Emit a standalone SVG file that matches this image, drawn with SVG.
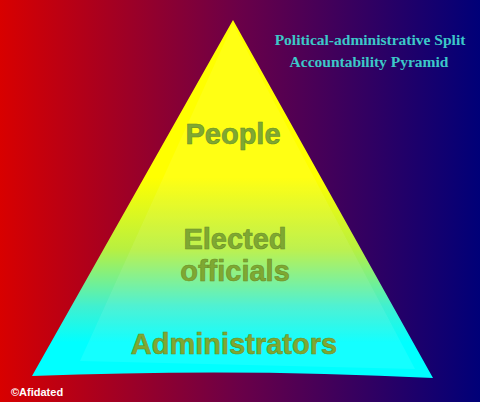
<svg xmlns="http://www.w3.org/2000/svg" width="480" height="402" viewBox="0 0 480 402">
<defs>
<linearGradient id="bg" x1="0" y1="0" x2="1" y2="0">
<stop offset="0" stop-color="#d80000"/>
<stop offset="0.5" stop-color="#6a0048"/>
<stop offset="1" stop-color="#000078"/>
</linearGradient>
<linearGradient id="pyr" x1="0" y1="20" x2="0" y2="378" gradientUnits="userSpaceOnUse">
<stop offset="0" stop-color="#ffff00"/>
<stop offset="0.44" stop-color="#ffff00"/>
<stop offset="0.64" stop-color="#b8f040"/>
<stop offset="0.8" stop-color="#40f0d0"/>
<stop offset="0.9" stop-color="#00ffff"/>
<stop offset="1" stop-color="#00ffff"/>
</linearGradient>
<style>
.lbl{font-family:"Liberation Sans",Arial,sans-serif;font-weight:bold;font-size:29px;fill:#7fa832;stroke:#6a8f28;stroke-width:0.6;text-anchor:middle}
.ttl{font-family:"Liberation Serif","Times New Roman",serif;font-weight:bold;font-size:15.5px;fill:#3cc8c8;text-anchor:middle}
</style>
</defs>
<rect width="480" height="402" fill="url(#bg)"/>
<g id="pyramid">
<path d="M233,20 L433,378 Q240,368 32,376 Z" fill="url(#pyr)"/>
<path d="M233,24 L80,361 L415,369 Z" fill="#ffffff" opacity="0.08"/>
</g>
<g id="connectors"></g>
<g id="people"><text class="lbl" x="233" y="144">People</text></g>
<g id="elected"><text class="lbl" x="235" y="249">Elected</text><text class="lbl" x="235" y="281">officials</text></g>
<g id="administrators"><text class="lbl" x="234" y="354">Administrators</text></g>
<g id="title">
<text class="ttl" x="370" y="45">Political-administrative Split</text>
<text class="ttl" x="369" y="67">Accountability Pyramid</text>
</g>
<text x="11" y="396" font-family="'Liberation Sans',Arial,sans-serif" font-size="11" font-weight="bold" fill="#ffffff">©Afidated</text>
</svg>
